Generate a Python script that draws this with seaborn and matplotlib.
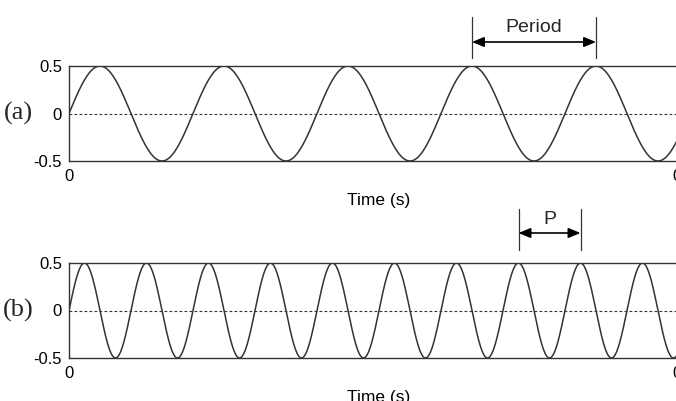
import numpy as np
import pandas as pd
import matplotlib
matplotlib.use("Agg")
import matplotlib.pyplot as plt
import seaborn as sns

# ---- data ----
amplitude = 0.5
duration = 0.02              # seconds shown on each axis
cycles = [5, 10]             # full cycles over the duration: (a), (b)
panel_labels = ["(a)", "(b)"]
period_labels = ["Period", "P"]
period_marks = [(3.25, 4.25), (7.25, 8.25)]   # peaks (in cycles) bracketed by the period arrow
xtick_vals = [0, duration]
xtick_labels = ["0", "0.02"]
ytick_vals = [0.5, 0, -0.5]
ytick_labels = ["0.5", "0", "-0.5"]
xlabel = "Time (s)"

sns.set_theme(style="white")
plt.rcParams["font.family"] = ["Liberation Sans", "DejaVu Sans"]

W, H = 676, 401
fig = plt.figure(figsize=(W / 100, H / 100), dpi=100)

line_col = "#333333"
left_px, right_px = 69, 689
tops = [66, 263]
ax_h = 95
# bracket geometry above the top spine (pixels): line top, line bottom, arrow, text
bracket_px = [(49, 8, 24, 38), (54, 13, 30, 44)]

for i in range(2):
    top = tops[i]
    ax = fig.add_axes([left_px / W, (H - top - ax_h) / H, (right_px - left_px) / W, ax_h / H])
    freq = cycles[i] / duration
    t = np.linspace(0, duration, 3000)
    df = pd.DataFrame({"t": t, "v": amplitude * np.sin(2 * np.pi * freq * t)})
    sns.lineplot(data=df, x="t", y="v", ax=ax, color=line_col, linewidth=1.1)
    ax.axhline(0, color=line_col, linewidth=0.8, linestyle=(0, (2.5, 2)))
    ax.set_xlim(0, duration)
    ax.set_ylim(-amplitude, amplitude)
    ax.set_xticks(xtick_vals)
    ax.set_xticklabels(xtick_labels)
    ax.set_yticks(ytick_vals)
    ax.set_yticklabels(ytick_labels)
    ax.tick_params(axis="both", direction="out", length=3, width=0.8, colors=line_col,
                   labelsize=12, labelcolor="black", pad=2)
    ax.tick_params(axis="x", pad=3)
    for s in ["top", "bottom", "left", "right"]:
        ax.spines[s].set_color(line_col)
        ax.spines[s].set_linewidth(1.0)
    ax.set_xlabel(xlabel, fontsize=12.5, labelpad=6, color="black")
    ax.set_ylabel("")
    ax.set_facecolor("none")

    # panel label
    fig.text(18 / W, (H - (top + ax_h / 2)) / H, panel_labels[i], family=["Liberation Serif", "DejaVu Serif"],
             fontsize=19, ha="center", va="center")

    # period bracket
    ltop, lbot, ay, ty = bracket_px[i]
    p = 1.0 / freq
    x0 = period_marks[i][0] * p
    x1 = period_marks[i][1] * p
    for xx in (x0, x1):
        ax.plot([xx, xx], [1.0 + lbot / ax_h, 1.0 + ltop / ax_h], transform=ax.get_xaxis_transform(),
                color=line_col, linewidth=0.9, clip_on=False)
    arrow_y = 1.0 + ay / ax_h
    ax.annotate("", xy=(x1, arrow_y), xytext=(x0, arrow_y),
                xycoords=("data", "axes fraction"), textcoords=("data", "axes fraction"),
                arrowprops=dict(arrowstyle="<|-|>,head_length=0.6,head_width=0.25", color="black",
                                linewidth=1.2, mutation_scale=12, shrinkA=0, shrinkB=0))
    ax.text((x0 + x1) / 2, 1.0 + ty / ax_h, period_labels[i], transform=ax.get_xaxis_transform(),
            ha="center", va="center", fontsize=14)

fig.savefig("out.png", dpi=100)
